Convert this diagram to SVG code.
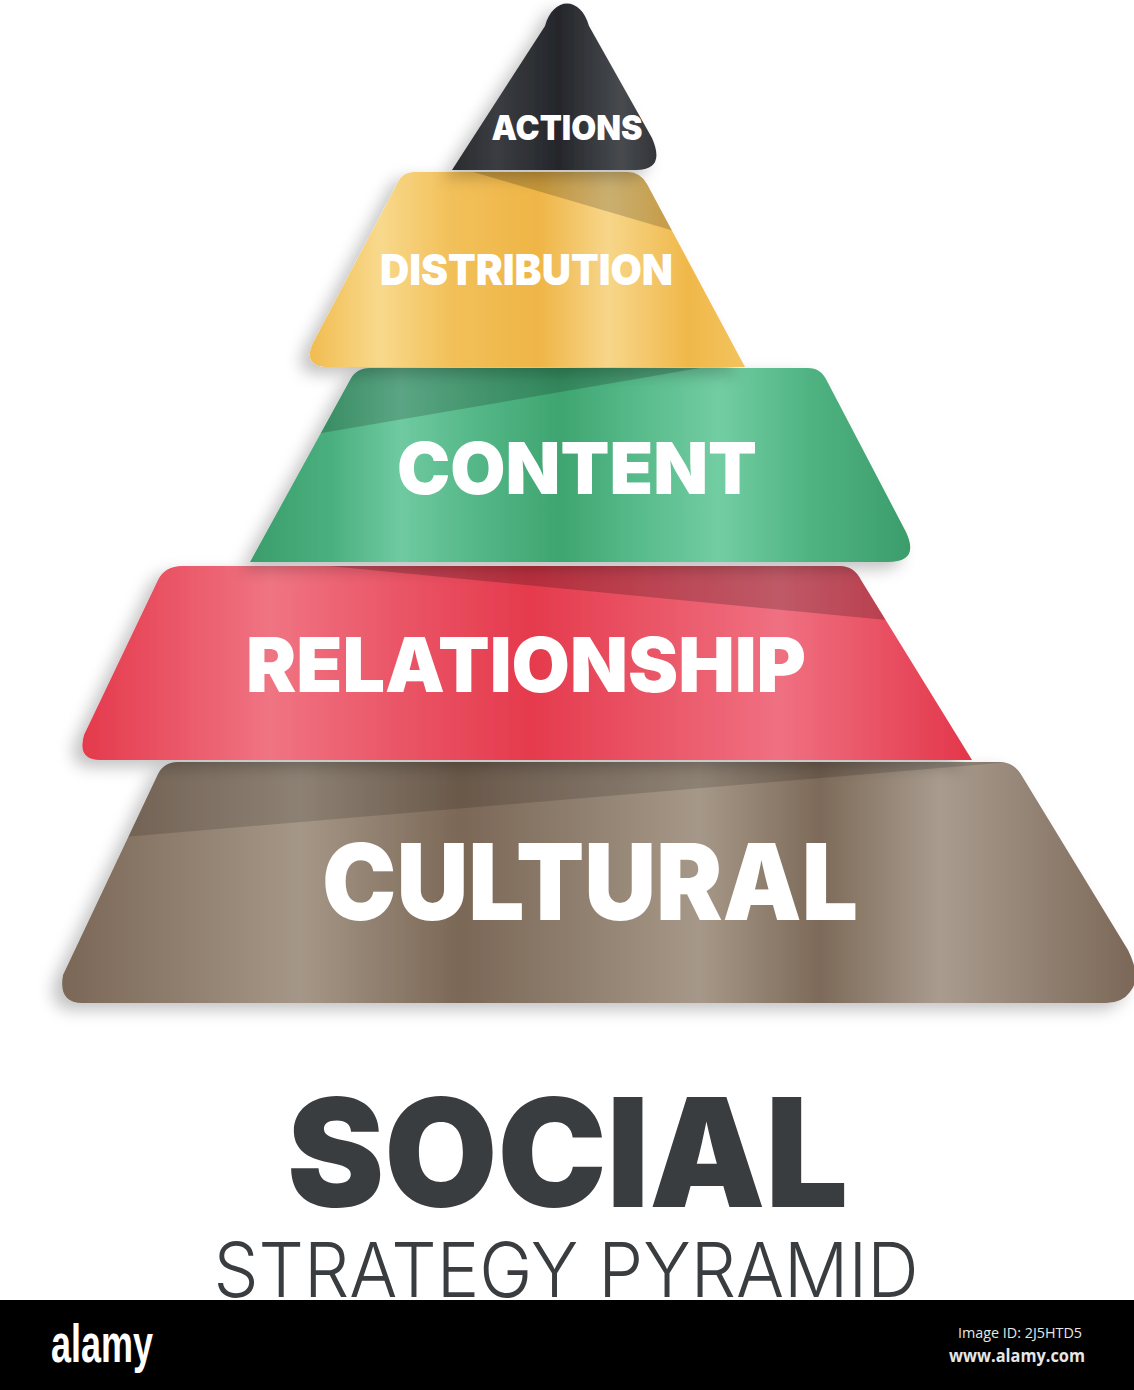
<svg xmlns="http://www.w3.org/2000/svg" xmlns:xlink="http://www.w3.org/1999/xlink" width="1134" height="1390" viewBox="0 0 1134 1390">
<style>
.lbl{font-family:Inter,"Liberation Sans",sans-serif;font-weight:900;fill:#ffffff;text-anchor:middle}
.ttl{font-family:Inter,"Liberation Sans",sans-serif;fill:#3a3d40;text-anchor:middle}
.band{fill:#000000}
.wm{font-family:"Open Sans","Liberation Sans",sans-serif;fill:#e6e6e6;text-anchor:end}
</style>
<defs>
<filter id="sh" x="-15%" y="-15%" width="130%" height="140%">
<feDropShadow dx="-9" dy="7" stdDeviation="8" flood-color="#000" flood-opacity="0.24"/>
</filter>
<linearGradient id="gBlack" gradientUnits="userSpaceOnUse" x1="452" y1="0" x2="666" y2="0">
<stop offset="0" stop-color="#2a2c30"/><stop offset="0.21" stop-color="#3a3c41"/><stop offset="0.5" stop-color="#25272b"/><stop offset="0.79" stop-color="#474a4f"/><stop offset="1" stop-color="#2d2f33"/>
</linearGradient>
<linearGradient id="gYellow" gradientUnits="userSpaceOnUse" x1="305" y1="0" x2="745" y2="0">
<stop offset="0" stop-color="#f1ba4c"/><stop offset="0.17" stop-color="#f8d98c"/><stop offset="0.33" stop-color="#f2c05a"/><stop offset="0.53" stop-color="#efb546"/><stop offset="0.69" stop-color="#f7d68a"/><stop offset="0.87" stop-color="#f0b84a"/><stop offset="1" stop-color="#f3c35e"/>
</linearGradient>
<linearGradient id="gGreen" gradientUnits="userSpaceOnUse" x1="250" y1="0" x2="915" y2="0">
<stop offset="0" stop-color="#3a9d6b"/><stop offset="0.12" stop-color="#4aaf7e"/><stop offset="0.226" stop-color="#6fcaa1"/><stop offset="0.346" stop-color="#53b686"/><stop offset="0.466" stop-color="#3ea570"/><stop offset="0.586" stop-color="#58bb8b"/><stop offset="0.707" stop-color="#72cda3"/><stop offset="0.842" stop-color="#4fb381"/><stop offset="1" stop-color="#3a9c6a"/>
</linearGradient>
<linearGradient id="gRed" gradientUnits="userSpaceOnUse" x1="80" y1="0" x2="975" y2="0">
<stop offset="0" stop-color="#e4394b"/><stop offset="0.212" stop-color="#f07483"/><stop offset="0.358" stop-color="#ea5566"/><stop offset="0.503" stop-color="#e53a4d"/><stop offset="0.637" stop-color="#ea5566"/><stop offset="0.782" stop-color="#ef7081"/><stop offset="1" stop-color="#e33549"/>
</linearGradient>
<linearGradient id="gBrown" gradientUnits="userSpaceOnUse" x1="58" y1="0" x2="1140" y2="0">
<stop offset="0" stop-color="#7a6656"/><stop offset="0.085" stop-color="#8a7868"/><stop offset="0.224" stop-color="#a59787"/><stop offset="0.372" stop-color="#7b6756"/><stop offset="0.464" stop-color="#8c7b6b"/><stop offset="0.593" stop-color="#a69888"/><stop offset="0.704" stop-color="#7d6a59"/><stop offset="0.815" stop-color="#a99c8e"/><stop offset="1" stop-color="#7a6656"/>
</linearGradient>
<path id="pBlack" d="M 452 170 L 545 26 C 553 -4 581 -4 589 26 L 652 138 Q 666 170 636 170 Z"/>
<path id="pYellow" d="M 330 367 Q 302 367 313 343 L 398 182 Q 403 172 414 172 L 628 172 Q 640 172 647 184 L 745 367 Z"/>
<path id="pGreen" d="M 250 562 L 350 380 Q 356 368 370 368 L 808 368 Q 821 368 827 381 L 906 532 Q 920 562 888 562 Z"/>
<path id="pRed" d="M 100 760 Q 77 760 84 735 L 158 580 Q 165 566 182 566 L 840 566 Q 854 566 861 580 L 972 760 Z"/>
<path id="pBrown" d="M 82 1003 Q 58 1003 63 975 L 158 774 Q 164 762 178 762 L 1000 762 Q 1014 762 1022 776 L 1128 950 Q 1142 978 1130 992 Q 1122 1003 1106 1003 Z"/>
<clipPath id="cYellow"><use xlink:href="#pYellow"/></clipPath>
<clipPath id="cGreen"><use xlink:href="#pGreen"/></clipPath>
<clipPath id="cRed"><use xlink:href="#pRed"/></clipPath>
<clipPath id="cBrown"><use xlink:href="#pBrown"/></clipPath>
</defs>
<rect x="0" y="0" width="1134" height="1390" fill="#ffffff"/>

<g id="node-cultural">
<use xlink:href="#pBrown" fill="url(#gBrown)" filter="url(#sh)"/>
<polygon class="band" points="1011,762 40,762 40,844" opacity="0.14" clip-path="url(#cBrown)"/>
<text class="lbl" x="590" y="920" font-size="106" textLength="536" lengthAdjust="spacingAndGlyphs">CULTURAL</text>
</g>

<g id="node-relationship">
<use xlink:href="#pRed" fill="url(#gRed)" filter="url(#sh)"/>
<polygon class="band" points="319,565 1000,565 1000,631" opacity="0.2" clip-path="url(#cRed)"/>
<text class="lbl" x="526" y="692" font-size="76" textLength="560" lengthAdjust="spacingAndGlyphs">RELATIONSHIP</text>
</g>

<g id="node-content">
<use xlink:href="#pGreen" fill="url(#gGreen)" filter="url(#sh)"/>
<polygon class="band" points="700,368 240,368 240,447" opacity="0.18" clip-path="url(#cGreen)"/>
<text class="lbl" x="577" y="494" font-size="72" textLength="360" lengthAdjust="spacingAndGlyphs">CONTENT</text>
</g>

<g id="node-distribution">
<use xlink:href="#pYellow" fill="url(#gYellow)" filter="url(#sh)"/>
<polygon class="band" points="473,172 800,172 800,268" opacity="0.18" clip-path="url(#cYellow)"/>
<text class="lbl" x="526.5" y="285" font-size="42" textLength="293" lengthAdjust="spacingAndGlyphs">DISTRIBUTION</text>
</g>

<g id="node-actions">
<use xlink:href="#pBlack" fill="url(#gBlack)" filter="url(#sh)"/>
<text class="lbl" x="567" y="140" font-size="34" textLength="151" lengthAdjust="spacingAndGlyphs">ACTIONS</text>
</g>

<g id="title">
<text class="ttl" x="567.5" y="1207" font-size="151" font-weight="900" textLength="561" lengthAdjust="spacingAndGlyphs">SOCIAL</text>
<text class="ttl" x="566" y="1297" font-size="76" font-weight="300" textLength="705" lengthAdjust="spacingAndGlyphs">STRATEGY PYRAMID</text>
</g>

<g id="footer">
<rect x="0" y="1300" width="1134" height="90" fill="#000000"/>
<text x="51" y="1362" font-family="'Liberation Sans',sans-serif" font-weight="700" font-size="54" fill="#ffffff" textLength="102" lengthAdjust="spacingAndGlyphs">alamy</text>
<text class="wm" x="1082" y="1338" font-size="15" textLength="124" lengthAdjust="spacingAndGlyphs">Image ID: 2J5HTD5</text>
<text class="wm" x="1085" y="1362" font-size="17" font-weight="700" textLength="136" lengthAdjust="spacingAndGlyphs">www.alamy.com</text>
</g>
</svg>
